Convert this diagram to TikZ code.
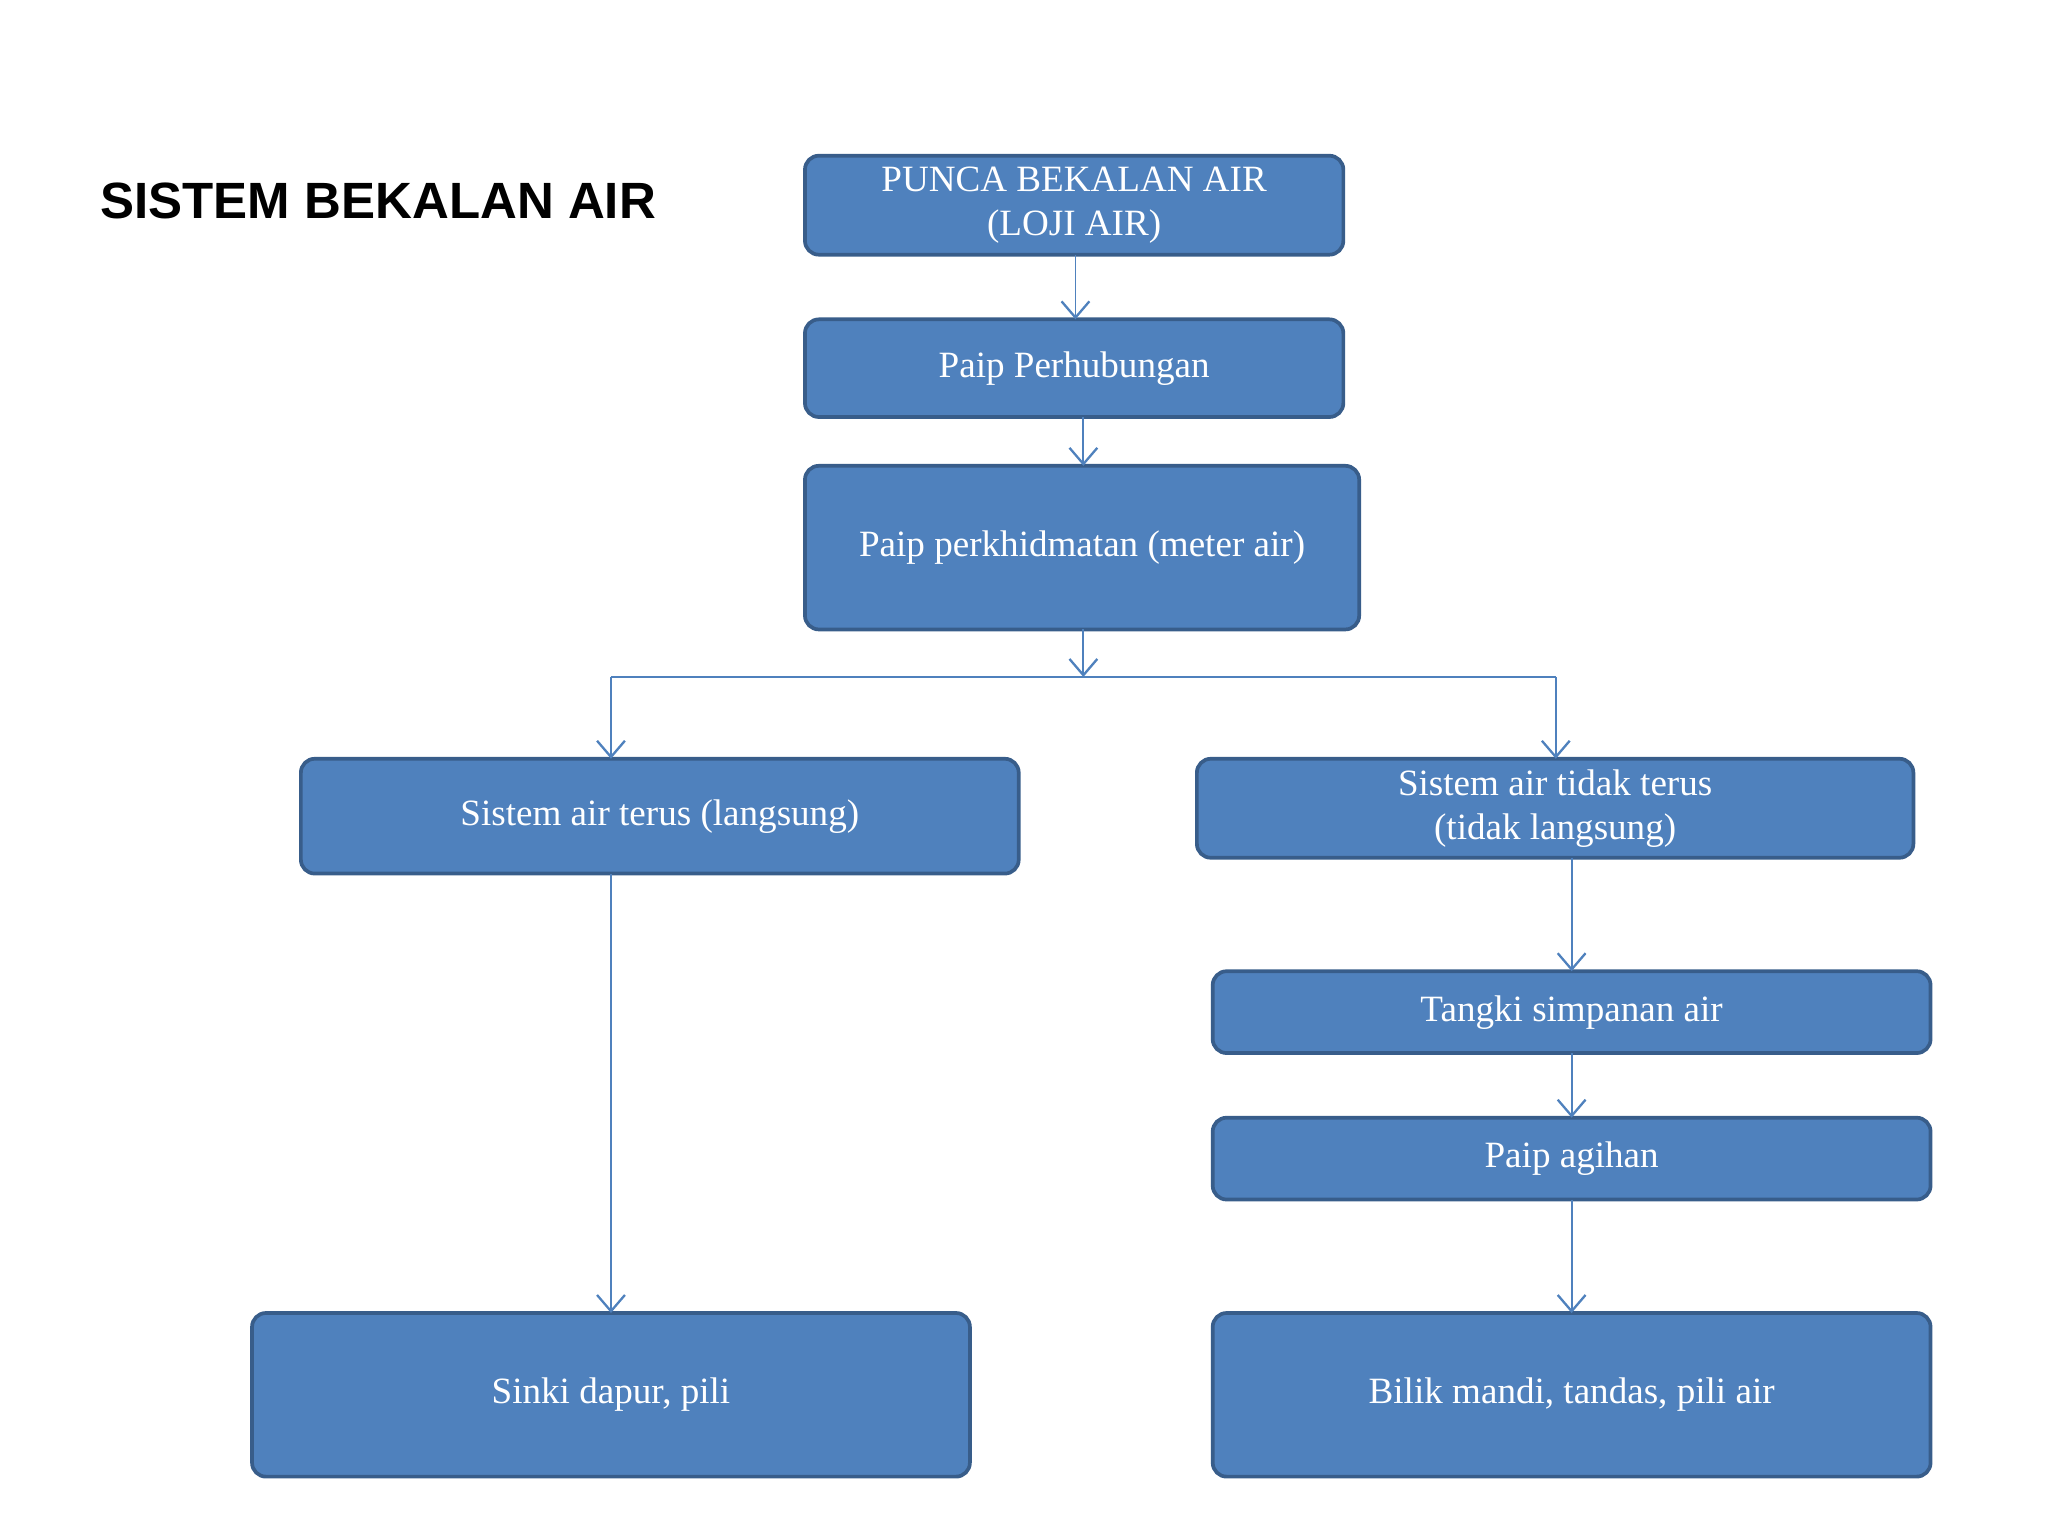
\documentclass[tikz,border=0pt]{standalone}
\usepackage{fontspec}
\setmainfont{Liberation Serif}
\newfontfamily\titlefont{Liberation Sans}
\usetikzlibrary{arrows.meta}
\begin{document}
\begin{tikzpicture}[x=0.02cm,y=-0.02cm,
  box/.style={draw=bdr,fill=boxfill,line width=1.6pt,rounded corners=6pt,text=white,align=center,font=\fontsize{16}{19}\selectfont,inner sep=0pt},
  con/.style={draw=boxfill,line width=0.8pt,-{Straight Barb[length=7pt,width=12pt,line width=1pt]}},
  ln/.style={draw=boxfill,line width=0.8pt}]
\definecolor{boxfill}{HTML}{4F81BD}
\definecolor{bdr}{HTML}{385D8A}
\useasboundingbox (0,0) rectangle (1552,1164);
\node[font=\titlefont\bfseries\fontsize{22}{26}\selectfont,anchor=west] (title) at (70,152) {SISTEM BEKALAN AIR};
\newcommand{\bx}[6]{\node[box,minimum width={(#4-#2)*0.02cm},minimum height={(#5-#3)*0.02cm}] (#1) at ({(#2+#4)/2},{(#3+#5)/2}) {#6};}
\bx{b1}{610}{118}{1018}{193}{PUNCA BEKALAN AIR\\(LOJI AIR)}
\bx{b2}{610}{242}{1018}{316}{Paip Perhubungan}
\bx{b3}{610}{353}{1030}{477}{Paip perkhidmatan (meter air)}
\bx{b4}{228}{575}{772}{662}{Sistem air terus (langsung)}
\bx{b5}{907}{575}{1450}{650}{Sistem air tidak terus\\(tidak langsung)}
\bx{b6}{919}{736}{1463}{798}{Tangki simpanan air}
\bx{b7}{919}{847}{1463}{909}{Paip agihan}
\bx{b8}{191}{995}{735}{1119}{Sinki dapur, pili}
\bx{b9}{919}{995}{1463}{1119}{Bilik mandi, tandas, pili air}
\coordinate (j) at (821,513);
\coordinate (jl) at (463,513);
\coordinate (jr) at (1179,513);
\draw[con] (815,193) -- (815,242);
\draw[con] (821,316) -- (821,353);
\draw[con] (821,477) -- (j);
\draw[ln] (jl) -- (jr);
\draw[con] (jl) -- (463,575);
\draw[con] (jr) -- (1179,575);
\draw[con] (463,662) -- (463,995);
\draw[con] (1191,650) -- (1191,736);
\draw[con] (1191,798) -- (1191,847);
\draw[con] (1191,909) -- (1191,995);
\end{tikzpicture}
\end{document}
